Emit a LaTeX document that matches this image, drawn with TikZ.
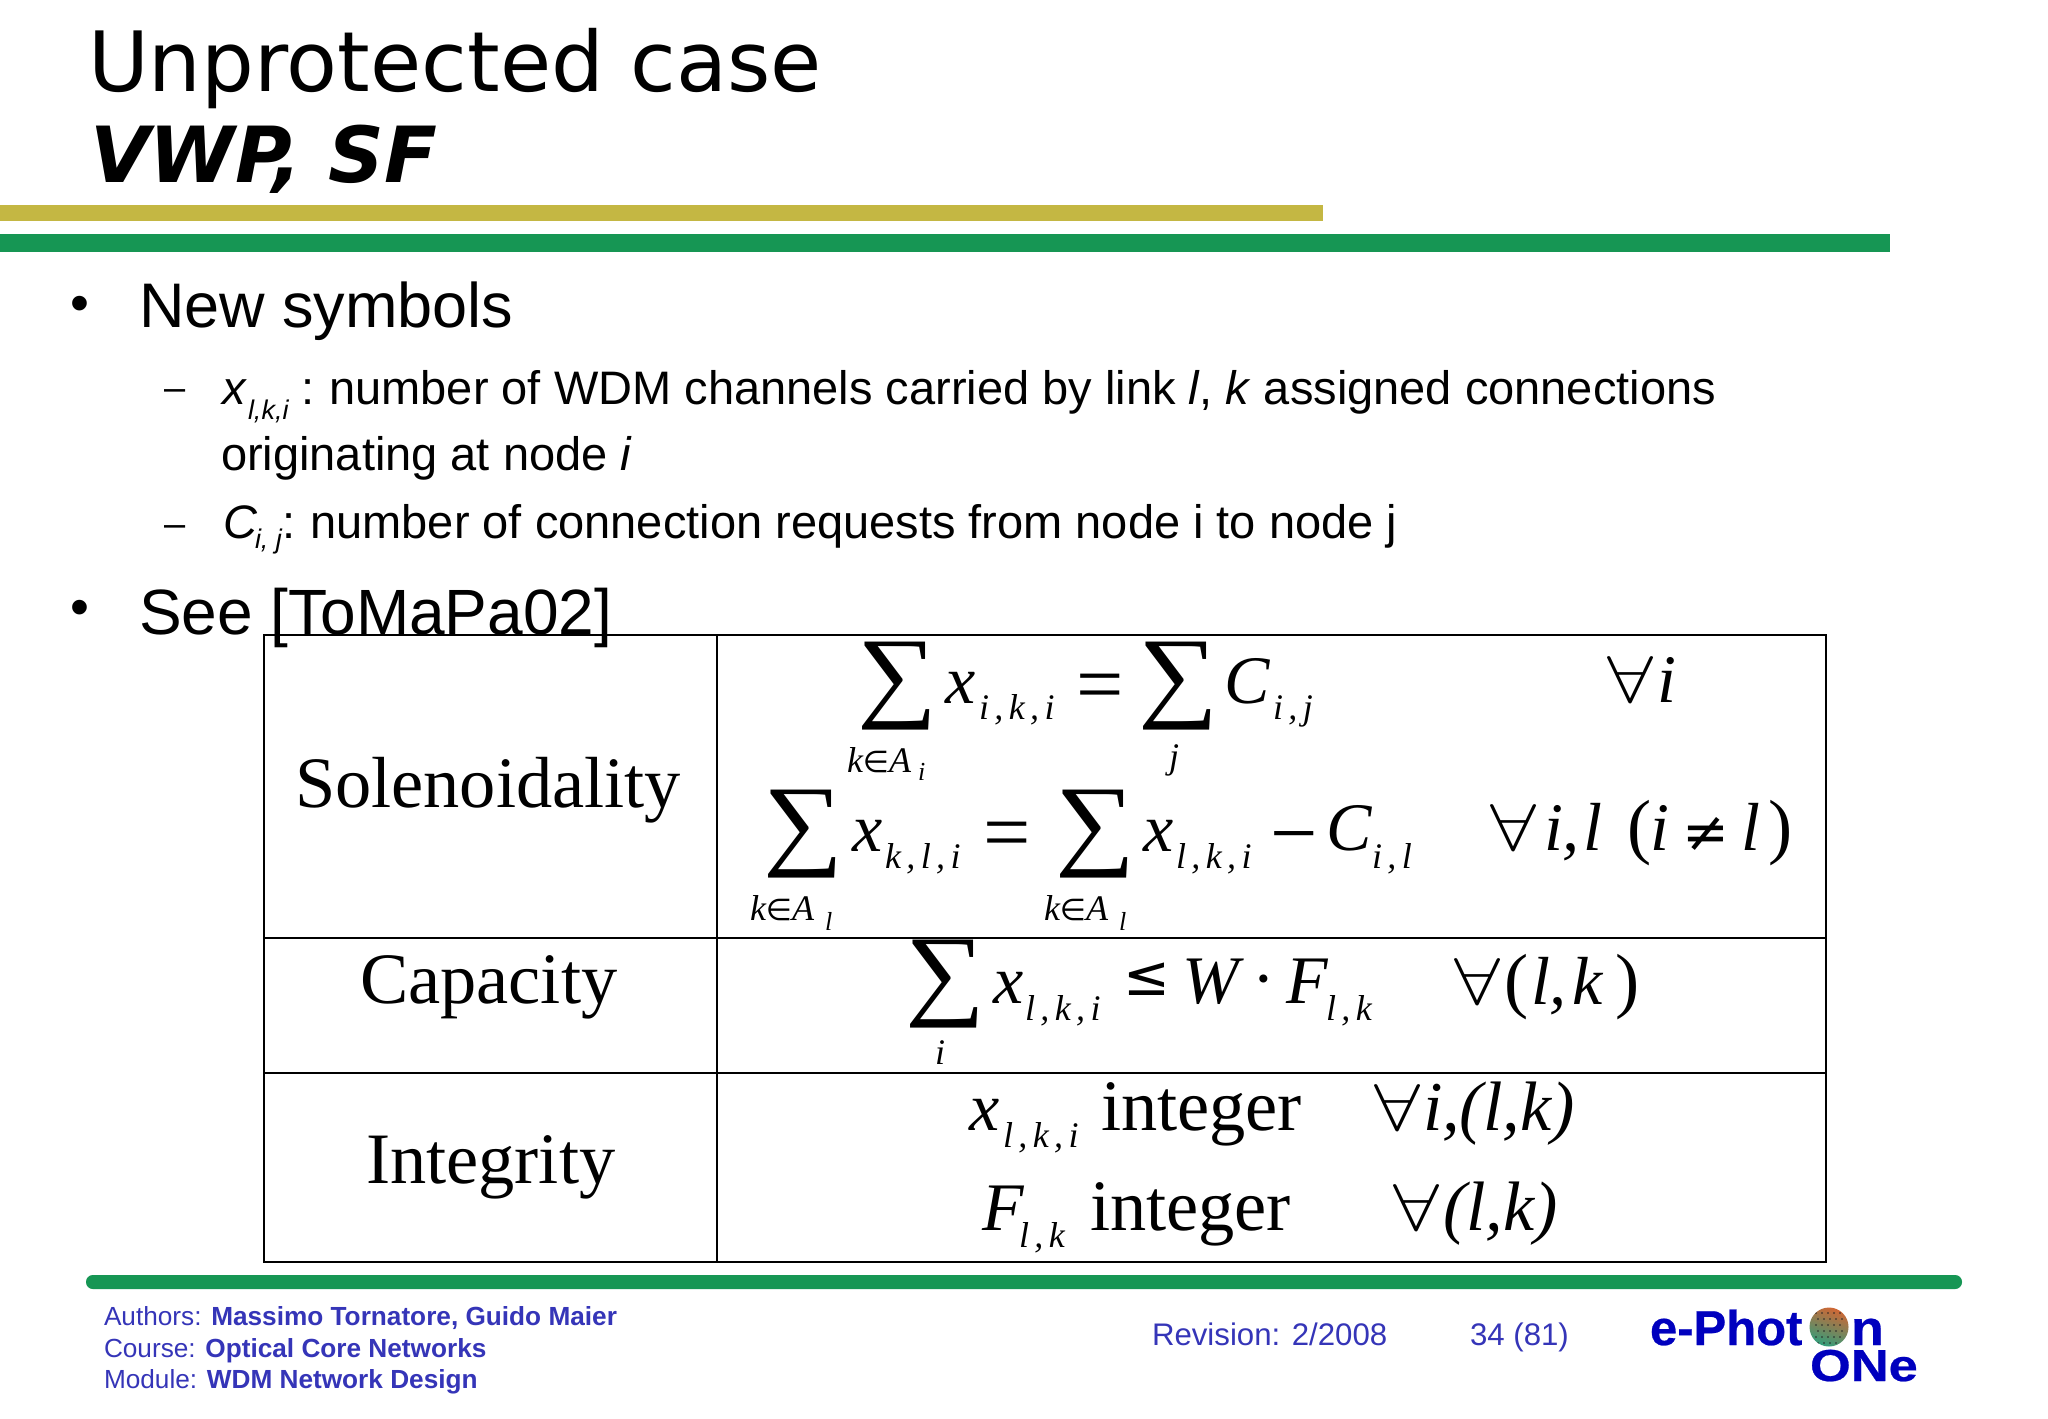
\documentclass[tikz,border=0pt]{standalone}
\usepackage{fontspec}
\setmainfont{Liberation Sans}
\newfontfamily\tms{Liberation Serif}
\newfontfamily\tmsp[LetterSpace=15]{Liberation Serif}
\newfontfamily\vrd{DejaVu Sans}
\newfontfamily\lgf[BoldFeatures={FakeBold=0.5}]{Liberation Sans}
\newcommand{\fz}[1]{\fontsize{#1}{#1}\selectfont}
\newcommand{\bigsum}{\resizebox*{40pt}{44pt}{\tms ∑}}
\newcommand{\fa}{\resizebox{23pt}{23pt}{$\forall$}}
\definecolor{gold}{HTML}{C4B743}
\definecolor{bargreen}{HTML}{169654}
\definecolor{footblue}{HTML}{3535B8}
\definecolor{logoblue}{HTML}{0000BE}
\definecolor{globetop}{HTML}{E2602C}
\definecolor{globemid}{HTML}{DCD634}
\definecolor{globebot}{HTML}{1FA584}
\tikzset{
  txt/.style={inner sep=0pt,outer sep=0pt,anchor=base west},
  ctr/.style={inner sep=0pt,outer sep=0pt,anchor=center},
  head/.style={txt,font=\vrd\fz{41.6}},
  sub head/.style={txt,font=\vrd\bfseries\itshape\fz{38.7}},
  lvl1/.style={txt,font=\fz{31.5}},
  lvl1w/.style={txt,font=\fz{32}},
  bul/.style={txt,font=\fz{27}},
  dashm/.style={txt,font=\fz{19}},
  lvl2/.style={txt,font=\fz{23.5}},
  lvl2i/.style={txt,font=\itshape\fz{23.5}},
  lvl2s/.style={txt,font=\itshape\fz{13.5}},
  rowlabel/.style={txt,font=\tms\fz{36.2}},
  mvar/.style={txt,font=\tms\itshape\fz{34}},
  mvarw/.style={txt,font=\tms\itshape\fz{35}},
  mup/.style={txt,font=\tms\fz{36.2}},
  msub/.style={txt,font=\tmsp\itshape\fz{18}},
  mlim/.style={txt,font=\tms\itshape\fz{18}},
  mlimsub/.style={txt,font=\tms\itshape\fz{13}},
  msym/.style={txt},
  mop/.style={ctr,font=\tms\fz{42}},
  sumsign/.style={ctr},
  foot/.style={txt,font=\fz{13.1},text=footblue},
  footr/.style={txt,font=\fz{15.6},text=footblue},
  logo/.style={txt,font=\lgf\bfseries\fz{24.5},text=logoblue},
  logob/.style={txt,font=\lgf\bfseries\fz{22.4},text=logoblue},
  rule/.style={line width=1.4pt,black},
  rulev/.style={line width=1pt,black},
}
\begin{document}
\begin{tikzpicture}[x=0.5pt,y=-0.5pt]
\useasboundingbox (0,0) rectangle (2048,1418);
\fill[white] (0,0) rectangle (2048,1418);
% header
\node[head] (title) at (88,91) {Unprotected case};
\node[sub head] (subtitle) at (90,182) {VWP, SF};
\fill[gold] (0,205) rectangle (1323,221);
\fill[bargreen] (0,234) rectangle (1890,252);
% bullets
\node[bul] (b1) at (70,321) {•};
\node[lvl1] (t1) at (139,327) {New symbols};
\node[dashm] (d1) at (164,400) {–};
\node[lvl2i] (x1) at (222,404) {x};
\node[lvl2s] (x1s) at (248,419) {l,k,i};
\node[lvl2] (t2) at (301,404) {:\hspace{-1pt} number of WDM channels carried by link \textit{l}, \textit{k} assigned connections};
\node[lvl2] (t3) at (221,470) {originating at node \textit{i}};
\node[dashm] (d2) at (164,536) {–};
\node[lvl2i] (c1) at (223,538) {C};
\node[lvl2s] (c1s) at (255,548) {i, j};
\node[lvl2] (t4) at (282,538) {:\hspace{-1pt} number of connection requests from node i to node j};
\node[bul] (b2) at (70,625) {•};
\node[lvl1w] (t5) at (139,634) {See [ToMaPa02]};
% table
\draw[rule] (264,635) rectangle (1826,1262);
\draw[rule] (264,938) -- (1826,938);
\draw[rule] (264,1073) -- (1826,1073);
\draw[rulev] (717,635) -- (717,1262);
\node[rowlabel] (l1) at (295,807) {Solenoidality};
\node[rowlabel] (l2) at (360,1003) {Capacity};
\node[rowlabel] (l3) at (366,1183) {Integrity};
% row 1
\node[sumsign] (s1) at (897,686) {\bigsum};
\node[mvar] (m1) at (945,703) {x};
\node[msub] (m1s) at (979,719) {i,k,i};
\node[mop] (m1e) at (1100,693) {=};
\node[sumsign] (s2) at (1178,686) {\bigsum};
\node[mvar] (m2) at (1224,703) {C};
\node[msub] (m2s) at (1273,719) {i,j};
\node[msym] (m3) at (1607,702) {\fa};
\node[mvar] (m3i) at (1657,702) {i};
\node[mlim] (lim1) at (847,772) {k{\vrd\fz{15}∈}A};
\node[mlimsub] (lim1s) at (918,780) {i};
\node[mlim] (lim2) at (1169,768) {j};
% row 2
\node[sumsign] (s3) at (803,834) {\bigsum};
\node[mvar] (n1) at (852,851) {x};
\node[msub] (n1s) at (885,868) {k,l,i};
\node[mop] (n1e) at (1007,841) {=};
\node[sumsign] (s4) at (1095,834) {\bigsum};
\node[mvar] (n2) at (1143,851) {x};
\node[msub] (n2s) at (1176,868) {l,k,i};
\node[mop] (n2m) at (1294,846) {−};
\node[mvar] (n3) at (1326,850) {C};
\node[msub] (n3s) at (1372,868) {i,l};
\node[msym] (n4) at (1490,850) {\fa};
\node[mvar] (n5) at (1544,850) {i,\hspace{2pt}l};
\node[mup] (n6) at (1627,850) {(};
\node[mvar] (n7) at (1650,850) {i};
\node[ctr,font=\vrd\fz{28}] (n8) at (1706,834) {≠};
\node[mvar] (n9) at (1741,850) {l};
\node[mup] (n10) at (1768,850) {)};
\node[mlim] (lim3) at (750,920) {k{\vrd\fz{15}∈}A};
\node[mlimsub] (lim3s) at (825,930) {l};
\node[mlim] (lim4) at (1044,920) {k{\vrd\fz{15}∈}A};
\node[mlimsub] (lim4s) at (1119,930) {l};
% row 3
\node[sumsign] (s5) at (945,984) {\bigsum};
\node[mvar] (p1) at (993,1003) {x};
\node[msub] (p1s) at (1025,1020) {l,k,i};
\node[ctr,font=\vrd\fz{28}] (p2) at (1147,979) {≤};
\node[mvar] (p3) at (1182,1003) {W};
\node[ctr,font=\tms\fz{34}] (p4) at (1264,988) {·};
\node[mvar] (p5) at (1286,1003) {F};
\node[msub] (p5s) at (1326,1020) {l,k};
\node[msym] (p6) at (1454,1004) {\fa};
\node[mup] (p7) at (1504,1004) {(};
\node[mvar] (p8) at (1531,1004) {l,\hspace{3pt}k};
\node[mup] (p9) at (1615,1004) {)};
\node[mlim] (lim5) at (935,1064) {i};
% row 4
\node[mvar] (q1) at (969,1130) {x};
\node[msub] (q1s) at (1003,1147) {l,k,i};
\node[mup] (q2) at (1101,1130) {integer};
\node[msym] (q3) at (1374,1130) {\fa};
\node[mvarw] (q4) at (1423,1130) {i,(l,k)};
\node[mvar] (r1) at (982,1230) {F};
\node[msub] (r1s) at (1019,1247) {l,k};
\node[mup] (r2) at (1090,1230) {integer};
\node[msym] (r3) at (1393,1230) {\fa};
\node[mvarw] (r4) at (1443,1230) {(l,k)};
% footer
\fill[bargreen,rounded corners=3.4pt] (86,1275) rectangle (1962,1289);
\node[foot] (a1) at (104,1325) {Authors: \textbf{Massimo Tornatore, Guido Maier}};
\node[foot] (a2) at (104,1357) {Course: \textbf{Optical Core Networks}};
\node[foot] (a3) at (104,1388) {Module: \textbf{WDM Network Design}};
\node[footr] (rev) at (1152,1345) {Revision: 2/2008};
\node[footr] (pg) at (1470,1345) {34 (81)};
% logo
\node[logo] (lg1) at (1650,1345) {e-Phot};
\node[logo] (lg2) at (1851,1345) {\scalebox{1.1}[1]{n}};
\node[logob] (lg3) at (1810,1381) {\scalebox{1.17}[1]{ONe}};
\begin{scope}
\clip (1829,1327) circle (19.5);
\shade[top color=globetop,middle color=globemid,bottom color=globebot,shading angle=-20] (1805,1303) rectangle (1853,1351);
\foreach \gx in {0,...,4}{\foreach \gy in {0,...,5}{
  \fill[black!85] ({1816+\gx*6+mod(\gy,2)*2},{1313+\gy*6}) circle (0.9);
}}
\end{scope}
\end{tikzpicture}
\end{document}
